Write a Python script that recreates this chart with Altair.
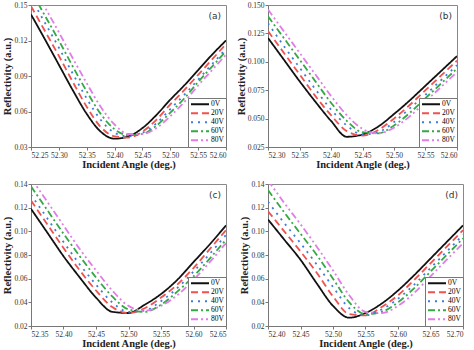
import altair as alt
import pandas as pd

series = ["0V", "20V", "40V", "60V", "80V"]
colors = ["#111111", "#f0524f", "#3b7dd8", "#33a845", "#e07de6"]
dashes = [[1, 0], [7, 4], [2, 5], [7, 3, 2, 3], [7, 3, 2, 3, 2, 3]]

# ---- panel (a)
angle_a = [52.25, 52.275, 52.30, 52.325, 52.35, 52.375, 52.40, 52.425, 52.45,
           52.475, 52.50, 52.525, 52.55, 52.575, 52.60]
a_0V = [0.142, 0.121, 0.0995, 0.078, 0.058, 0.043, 0.037, 0.039, 0.046, 0.057, 0.070, 0.082, 0.095, 0.108, 0.120]
a_20V = [0.149, 0.128, 0.107, 0.085, 0.064, 0.047, 0.039, 0.038, 0.043, 0.053, 0.066, 0.078, 0.091, 0.104, 0.117]
a_40V = [0.156, 0.135, 0.114, 0.092, 0.071, 0.053, 0.042, 0.039, 0.042, 0.050, 0.062, 0.074, 0.087, 0.100, 0.113]
a_60V = [0.162, 0.141, 0.120, 0.098, 0.077, 0.058, 0.045, 0.040, 0.041, 0.048, 0.059, 0.071, 0.085, 0.098, 0.111]
a_80V = [0.169, 0.148, 0.127, 0.105, 0.084, 0.064, 0.049, 0.041, 0.041, 0.046, 0.056, 0.068, 0.082, 0.095, 0.108]
xticks_a = [52.25, 52.30, 52.35, 52.40, 52.45, 52.50, 52.55, 52.60]
yticks_a = [0.03, 0.06, 0.09, 0.12, 0.15]

# ---- panel (b)
angle_b = [52.30, 52.325, 52.35, 52.375, 52.40, 52.425, 52.45, 52.475, 52.50,
           52.525, 52.55, 52.575, 52.60]
b_0V = [0.121, 0.102, 0.083, 0.065, 0.048, 0.034, 0.036, 0.043, 0.054, 0.066, 0.079, 0.092, 0.105]
b_20V = [0.127, 0.108, 0.089, 0.070, 0.053, 0.039, 0.035, 0.040, 0.050, 0.062, 0.075, 0.088, 0.101]
b_40V = [0.134, 0.114, 0.095, 0.076, 0.058, 0.044, 0.036, 0.038, 0.047, 0.059, 0.071, 0.084, 0.097]
b_60V = [0.140, 0.121, 0.102, 0.083, 0.064, 0.048, 0.038, 0.037, 0.044, 0.055, 0.068, 0.081, 0.094]
b_80V = [0.146, 0.127, 0.108, 0.089, 0.070, 0.053, 0.041, 0.037, 0.042, 0.052, 0.065, 0.078, 0.091]
xticks_b = [52.30, 52.35, 52.40, 52.45, 52.50, 52.55, 52.60]
yticks_b = [0.025, 0.050, 0.075, 0.100, 0.125, 0.150]

# ---- panel (c)
angle_c = [52.35, 52.375, 52.40, 52.425, 52.45, 52.475, 52.50, 52.525, 52.55,
           52.575, 52.60, 52.625, 52.65]
c_0V = [0.119, 0.099, 0.079, 0.061, 0.044, 0.032, 0.031, 0.038, 0.047, 0.059, 0.074, 0.089, 0.105]
c_20V = [0.126, 0.106, 0.086, 0.067, 0.050, 0.036, 0.031, 0.035, 0.044, 0.055, 0.069, 0.085, 0.101]
c_40V = [0.131, 0.111, 0.091, 0.072, 0.055, 0.040, 0.032, 0.033, 0.041, 0.052, 0.066, 0.081, 0.097]
c_60V = [0.138, 0.118, 0.098, 0.079, 0.061, 0.045, 0.034, 0.032, 0.038, 0.049, 0.062, 0.077, 0.093]
c_80V = [0.145, 0.125, 0.105, 0.085, 0.067, 0.050, 0.037, 0.033, 0.037, 0.046, 0.059, 0.074, 0.090]
xticks_c = [52.35, 52.40, 52.45, 52.50, 52.55, 52.60, 52.65]
yticks_c = [0.02, 0.04, 0.06, 0.08, 0.10, 0.12, 0.14]

# ---- panel (d)
angle_d = [52.40, 52.425, 52.45, 52.475, 52.50, 52.525, 52.55, 52.575, 52.60,
           52.625, 52.65, 52.675, 52.70]
d_0V = [0.110, 0.093, 0.076, 0.056, 0.037, 0.027, 0.031, 0.039, 0.050, 0.063, 0.077, 0.091, 0.105]
d_20V = [0.117, 0.100, 0.083, 0.065, 0.045, 0.030, 0.029, 0.036, 0.046, 0.059, 0.073, 0.087, 0.101]
d_40V = [0.125, 0.107, 0.090, 0.072, 0.053, 0.035, 0.029, 0.034, 0.043, 0.055, 0.069, 0.083, 0.097]
d_60V = [0.135, 0.116, 0.098, 0.080, 0.060, 0.040, 0.030, 0.032, 0.040, 0.052, 0.066, 0.080, 0.094]
d_80V = [0.143, 0.124, 0.106, 0.087, 0.067, 0.046, 0.032, 0.031, 0.037, 0.048, 0.062, 0.076, 0.090]
xticks_d = [52.40, 52.45, 52.50, 52.55, 52.60, 52.65, 52.70]
yticks_d = [0.02, 0.04, 0.06, 0.08, 0.10, 0.12, 0.14]

SERIF = "Liberation Serif"


def panel(label, angles, curves, xticks, yticks, yfmt, w, h):
    rows = []
    for s, vals in zip(series, curves):
        for x, y in zip(angles, vals):
            rows.append({"angle": x, "refl": y, "series": s})
    df = pd.DataFrame(rows)
    leg = alt.Legend(
        title=None, orient="bottom-right", offset=0, padding=2,
        strokeColor="#777", fillColor="white", symbolType="stroke",
        symbolSize=324, symbolStrokeWidth=1.8, labelFont=SERIF,
        labelFontSize=7.5, rowPadding=0, labelOffset=1, clipHeight=8.5,
        symbolOffset=0,
    )
    lines = alt.Chart(df).mark_line(clip=True, strokeWidth=1.8, interpolate="monotone").encode(
        x=alt.X("angle:Q",
                scale=alt.Scale(domain=[xticks[0], xticks[-1]], nice=False, zero=False),
                axis=alt.Axis(values=xticks, format=".2f", title="Incident Angle (deg.)")),
        y=alt.Y("refl:Q",
                scale=alt.Scale(domain=[yticks[0], yticks[-1]], nice=False, zero=False),
                axis=alt.Axis(values=yticks, format=yfmt, title="Reflectivity (a.u.)")),
        color=alt.Color("series:N", scale=alt.Scale(domain=series, range=colors), legend=leg),
        strokeDash=alt.StrokeDash("series:N", scale=alt.Scale(domain=series, range=dashes), legend=leg),
    )
    tag = alt.Chart(pd.DataFrame({"t": [label]})).mark_text(
        font="DejaVu Sans", fontSize=9, color="#333", align="right", baseline="top"
    ).encode(text="t:N", x=alt.value(w - 5), y=alt.value(7))
    return alt.layer(lines, tag).properties(width=w, height=h)


pa = panel("(a)", angle_a, [a_0V, a_20V, a_40V, a_60V, a_80V], xticks_a, yticks_a, ".2f", 195, 142)
pb = panel("(b)", angle_b, [b_0V, b_20V, b_40V, b_60V, b_80V], xticks_b, yticks_b, ".3f", 189, 142)
pc = panel("(c)", angle_c, [c_0V, c_20V, c_40V, c_60V, c_80V], xticks_c, yticks_c, ".2f", 195, 142)
pd_ = panel("(d)", angle_d, [d_0V, d_20V, d_40V, d_60V, d_80V], xticks_d, yticks_d, ".2f", 195, 142)

chart = alt.concat(pa, pb, pc, pd_, columns=2, spacing={"row": 8, "column": 8}).resolve_scale(
    color="independent", strokeDash="independent"
).properties(
    padding={"left": 2, "top": 0, "right": 2, "bottom": 0}
).configure_axis(
    labelFont=SERIF, labelFontSize=7.5, labelColor="#333",
    titleFont=SERIF, titleFontSize=10.5, titleFontWeight="bold", titleColor="#222",
    grid=False, domainColor="#777", tickColor="#777", tickSize=3, labelPadding=1, titlePadding=1,
).configure_view(stroke="#888")

chart.save("out.html", embed_options={"renderer": "svg", "actions": False})
